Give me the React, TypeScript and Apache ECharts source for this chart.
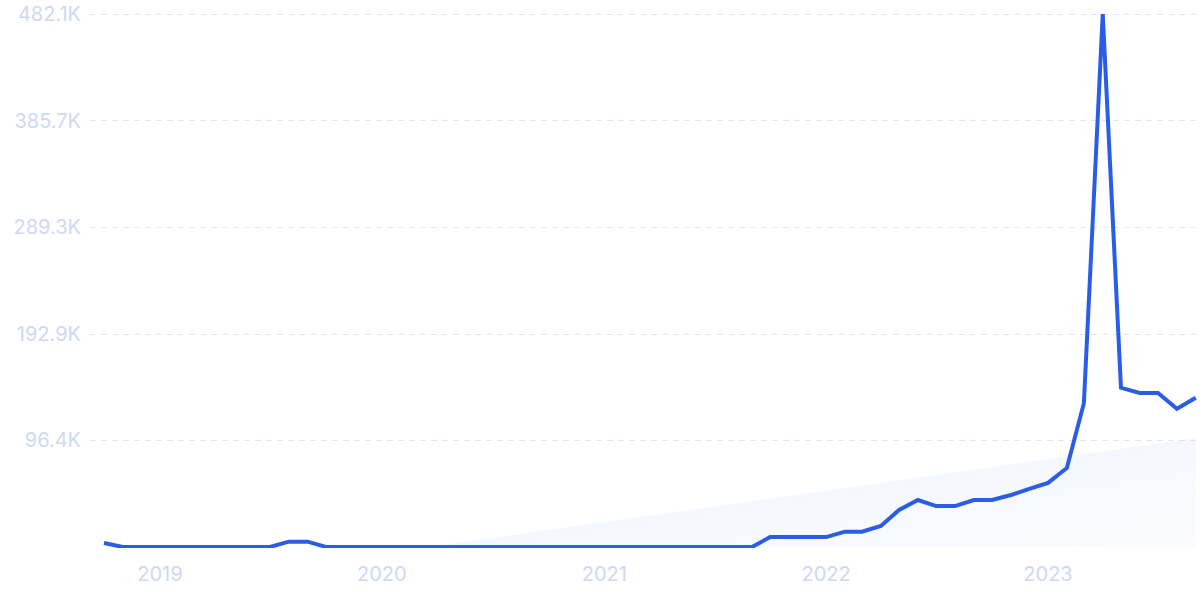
import React, { useEffect, useRef } from "react";
import * as echarts from "echarts";

const months: string[] = [
  "2018-10-01", "2018-11-01", "2018-12-01",
  "2019-01-01", "2019-02-01", "2019-03-01", "2019-04-01", "2019-05-01", "2019-06-01",
  "2019-07-01", "2019-08-01", "2019-09-01", "2019-10-01", "2019-11-01", "2019-12-01",
  "2020-01-01", "2020-02-01", "2020-03-01", "2020-04-01", "2020-05-01", "2020-06-01",
  "2020-07-01", "2020-08-01", "2020-09-01", "2020-10-01", "2020-11-01", "2020-12-01",
  "2021-01-01", "2021-02-01", "2021-03-01", "2021-04-01", "2021-05-01", "2021-06-01",
  "2021-07-01", "2021-08-01", "2021-09-01", "2021-10-01", "2021-11-01", "2021-12-01",
  "2022-01-01", "2022-02-01", "2022-03-01", "2022-04-01", "2022-05-01", "2022-06-01",
  "2022-07-01", "2022-08-01", "2022-09-01", "2022-10-01", "2022-11-01", "2022-12-01",
  "2023-01-01", "2023-02-01", "2023-03-01", "2023-04-01", "2023-05-01", "2023-06-01",
  "2023-07-01", "2023-08-01", "2023-09-01",
];

const values: number[] = [
  3600, 0, 0,
  0, 0, 0, 0, 0, 0,
  0, 4800, 4800, 0, 0, 0,
  0, 0, 0, 0, 0, 0,
  0, 0, 0, 0, 0, 0,
  0, 0, 0, 0, 0, 0,
  0, 0, 0, 9000, 9000, 9000,
  9000, 13900, 13900, 19000, 33500, 42500,
  37000, 37000, 42500, 42500, 47000, 52500,
  58000, 71500, 130000, 482130, 144000, 139400,
  139400, 125000, 135000,
];

// trend line end points (start, end)
const trendDates: string[] = ["2018-10-01", "2023-09-01"];
const trendValues: number[] = [-42000, 98700];

const yMax = 482130;
const yInterval = 96426;
const xMin = "2018-09-08";
const xMax = "2023-09-08";

export default function App() {
  const ref = useRef<HTMLDivElement>(null);
  useEffect(() => {
    if (!ref.current) return;
    const chart = echarts.init(ref.current, undefined, { renderer: "svg" });
    const labelColor = "#cdd8f4";
    chart.setOption({
      animation: false,
      backgroundColor: "#ffffff",
      grid: { left: 90, right: 0, top: 14, bottom: 53, containLabel: false },
      graphic: [
        {
          type: "rect",
          left: 90,
          top: 548,
          shape: { width: 1110, height: 6 },
          style: { fill: "#ffffff" },
          z: 100,
          silent: true,
        },
      ],
      xAxis: {
        type: "time",
        min: xMin,
        max: xMax,
        axisLine: { show: false },
        axisTick: { show: false },
        splitLine: { show: false },
        axisLabel: {
          color: labelColor,
          fontSize: 20,
          fontFamily: "Inter",
          margin: 17,
          hideOverlap: false,
          formatter: (val: number) => {
            const d = new Date(val);
            return d.getMonth() === 0 && d.getDate() === 1 ? String(d.getFullYear()) : "";
          },
        },
      },
      yAxis: {
        type: "value",
        min: 0,
        max: yMax,
        interval: yInterval,
        axisLine: { show: false },
        axisTick: { show: false },
        splitLine: {
          show: true,
          showMinLine: false,
          lineStyle: { color: "#dfe6f8", type: [6, 5], width: 1 },
        },
        axisLabel: {
          color: labelColor,
          fontSize: 20,
          fontFamily: "Inter",
          margin: 9,
          showMinLabel: false,
          formatter: (v: number) => (v === 0 ? "" : (v / 1000).toFixed(1) + "K"),
        },
      },
      series: [
        {
          type: "line",
          data: trendDates.map((d, i) => [d, trendValues[i]]),
          showSymbol: false,
          silent: true,
          lineStyle: { width: 0, opacity: 0 },
          areaStyle: {
            color: new echarts.graphic.LinearGradient(0, 0, 1, 1, [
              { offset: 0, color: "rgba(70,130,235,0.15)" },
              { offset: 1, color: "rgba(70,130,235,0.02)" },
            ]),
          },
          z: 1,
        },
        {
          type: "line",
          data: months.map((d, i) => [d, values[i]]),
          showSymbol: false,
          lineStyle: { color: "#2b5ce6", width: 4, join: "miter" },
          itemStyle: { color: "#2b5ce6" },
          z: 3,
        },
      ],
    });
    return () => chart.dispose();
  }, []);
  return (
    <div
      ref={ref}
      style={{ position: "fixed", left: 0, top: 0, width: 1200, height: 600 }}
    />
  );
}
